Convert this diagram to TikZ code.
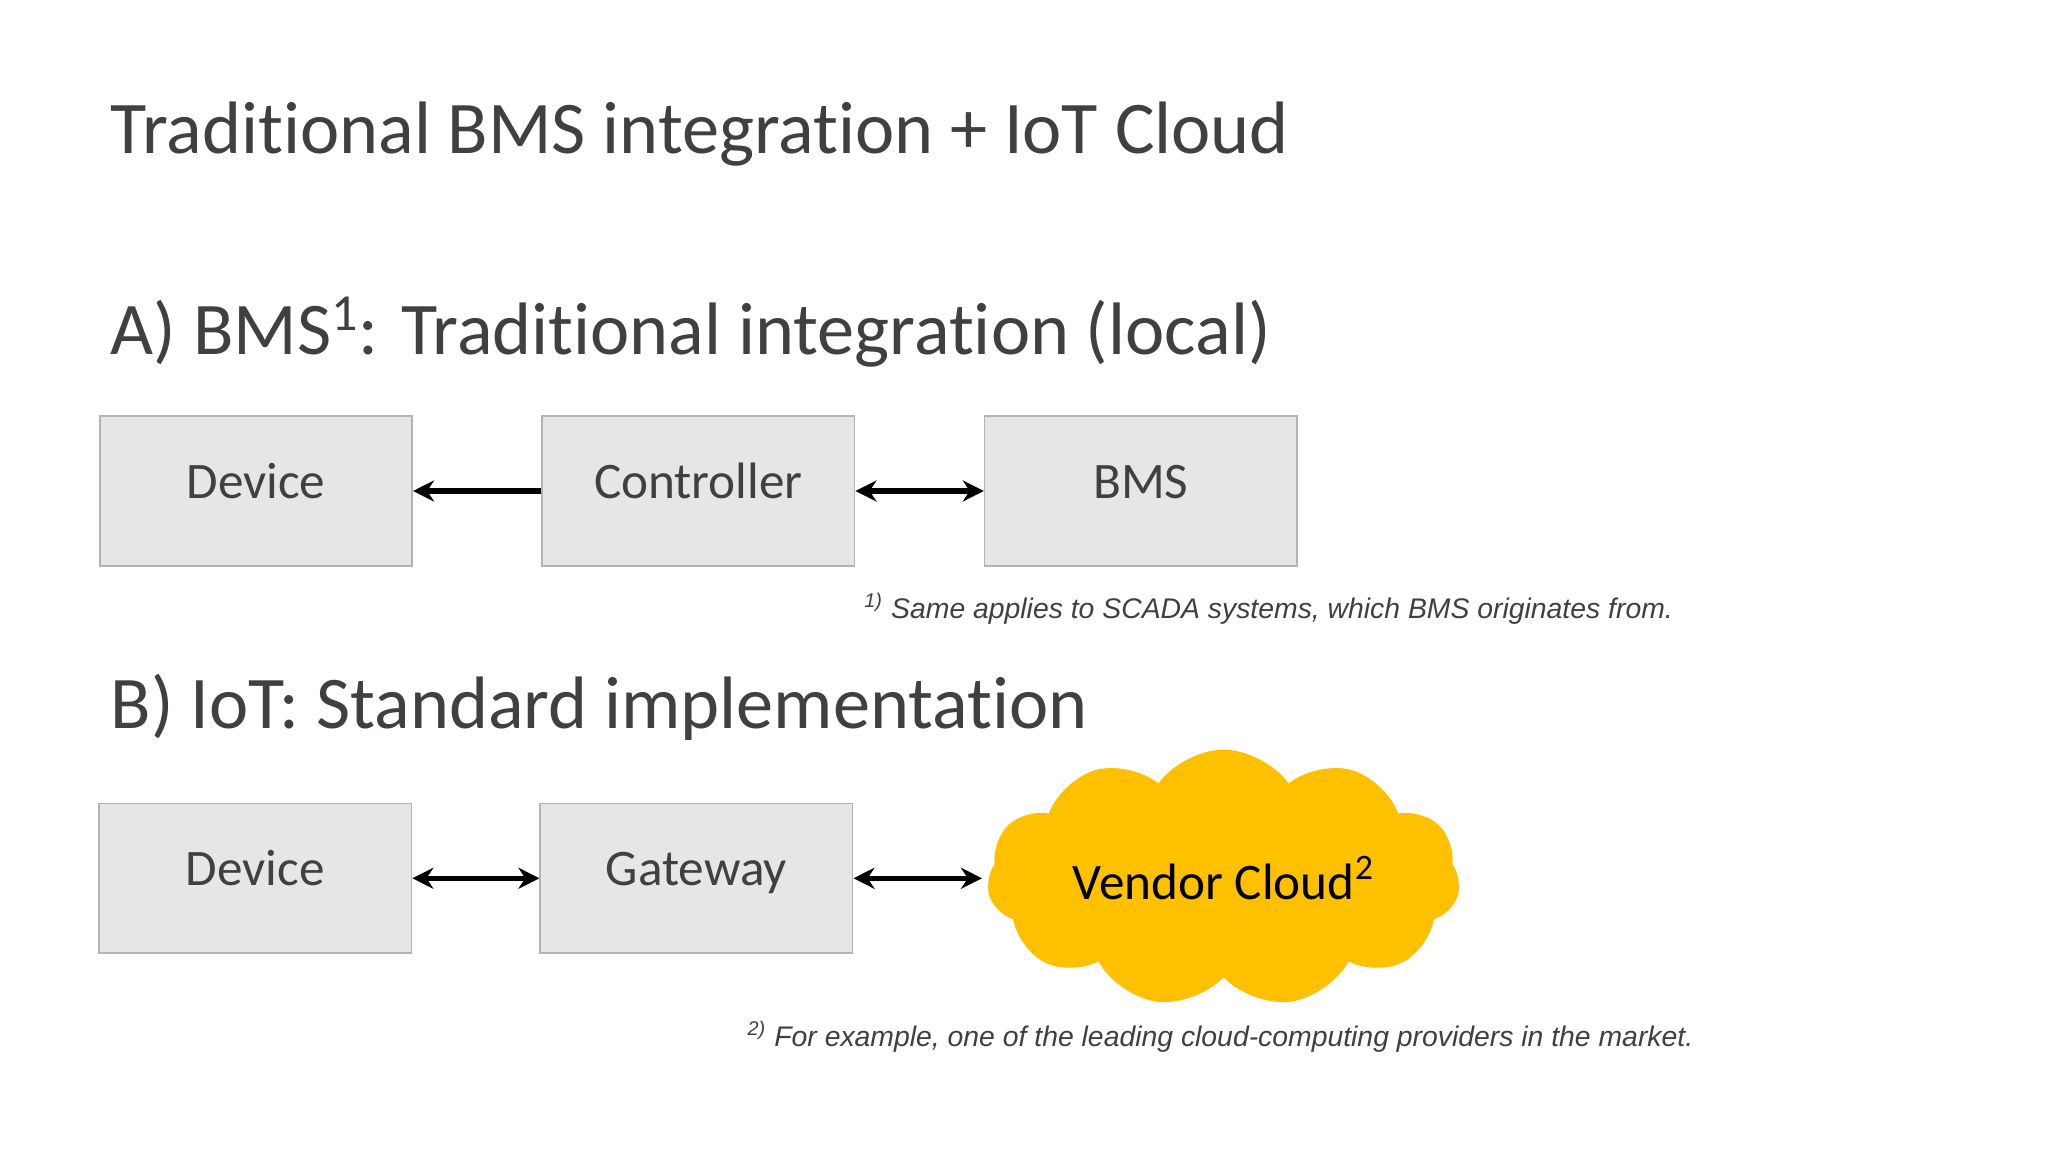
\documentclass[tikz,border=0pt]{standalone}
\usepackage{fontspec}
\setmainfont{Carlito}[Ligatures={NoCommon}]
\newfontfamily\fnfont{Liberation Sans}
\usetikzlibrary{shapes.symbols,arrows.meta}
\definecolor{txt}{HTML}{404040}
\definecolor{boxfill}{HTML}{E7E6E6}
\definecolor{boxdraw}{HTML}{B4B4B4}
\definecolor{cloudy}{HTML}{FFC000}
\begin{document}
\begin{tikzpicture}[x=0.5pt,y=-0.5pt,
  box/.style={draw=boxdraw,fill=boxfill,line width=0.6pt,minimum width=119pt,minimum height=57pt,inner sep=0pt,text height=1.6ex,text depth=0.4ex,font=\fontsize{19.5}{23}\selectfont,text=txt},
  head/.style={anchor=base west,inner sep=0pt,font=\fontsize{28.3}{33}\selectfont,text=txt},
  fn/.style={anchor=base west,inner sep=0pt,font=\fnfont\itshape\fontsize{10.8}{12}\selectfont,text=txt},
  conn/.style={line width=2pt,black,-{Stealth[length=8pt,width=8pt]}},
  bconn/.style={line width=2pt,black,{Stealth[length=8pt,width=8pt]}-{Stealth[length=8pt,width=8pt]}}]
\useasboundingbox[fill=white] (0,0) rectangle (1560,878);
\node[head] (t) at (84,117) {Traditional BMS integration + IoT Cloud};
\node[head] (ha) at (84,270) {A) BMS\textsuperscript{1}: Traditional integration (local)};
\node[head] (hb) at (84,555) {B) IoT: Standard implementation};
\node[box] (d1) at (195,374) {Device};
\node[box] (c1) at (532,374) {Controller};
\node[box] (b1) at (869,374) {BMS};
\draw[conn] (c1) -- (d1);
\draw[bconn] (c1) -- (b1);
\node[fn] (f1) at (658,471) {\textsuperscript{1)} Same applies to SCADA systems, which BMS originates from.};
\node[box] (d2) at (194.5,669) {Device};
\node[box] (g2) at (530.5,669) {Gateway};
\node[cloud,cloud puffs=11,cloud puff arc=110,aspect=2.1,fill=cloudy,draw=none,minimum width=180pt,minimum height=86pt,inner sep=0pt,font=\fontsize{19.5}{23}\selectfont,text=black] (vc) at (932,669) {Vendor Cloud\textsuperscript{2}};
\draw[bconn] (d2) -- (g2);
\draw[bconn] (g2.east) -- (748,669);
\node[fn] (f2) at (569,797) {\textsuperscript{2)} For example, one of the leading cloud-computing providers in the market.};
\end{tikzpicture}
\end{document}
